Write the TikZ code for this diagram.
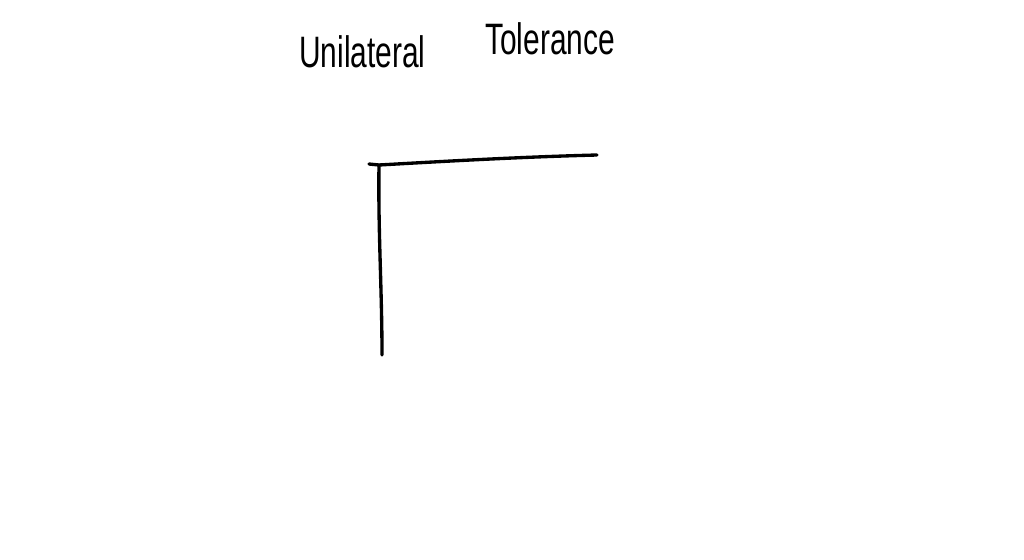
\documentclass[tikz,border=0pt]{standalone}
\usepackage{fontspec}
\setmainfont{Liberation Sans}
\newcommand{\tallword}[1]{\scalebox{1.02}[1.5]{#1}}
\begin{document}
\begin{tikzpicture}[x=0.75pt,y=-0.75pt,
  hand/.style={inner sep=0pt,font=\fontsize{22}{24}\selectfont,anchor=base west},
  stroke/.style={line width=2.5pt,line cap=round,line join=round}]
\useasboundingbox (0,0) rectangle (1024,560);
\node[hand] (t1) at (299,68) {\tallword{Unilateral}};
\node[hand] (t2) at (485,55) {\tallword{Tolerance}};
\coordinate (hstart) at (369,164);
\coordinate (corner) at (379,165);
\coordinate (hend) at (597,155);
\coordinate (vend) at (382,355);
\draw[stroke] (hstart) -- (corner) .. controls (450,161) and (520,157) .. (hend);
\draw[stroke] (corner) .. controls (378,230) and (382,290) .. (vend);
\end{tikzpicture}
\end{document}
